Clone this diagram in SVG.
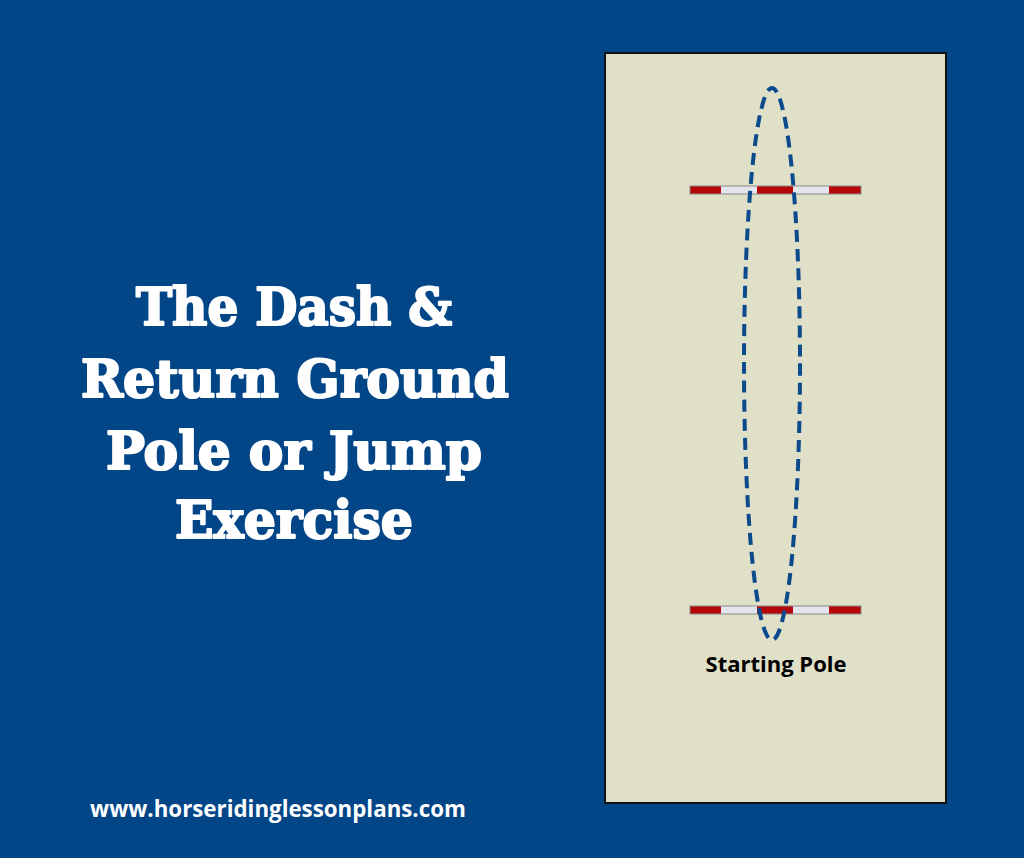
<svg xmlns="http://www.w3.org/2000/svg" width="1024" height="858" viewBox="0 0 1024 858">
<style>
.title{font-family:"DejaVu Serif",serif;font-weight:bold;font-size:52px;fill:#ffffff;stroke:#ffffff;stroke-width:2.2;stroke-linejoin:round;text-anchor:middle}
.red{fill:#b40808}
.wht{fill:#e2e6ea}
.pole{fill:none;stroke:#8a8a8a;stroke-width:1}
</style>
<defs>
<g id="pole">
<rect class="red" x="690" y="0" width="31" height="8"/>
<rect class="wht" x="721" y="0" width="36" height="8"/>
<rect class="red" x="757" y="0" width="36" height="8"/>
<rect class="wht" x="793" y="0" width="36" height="8"/>
<rect class="red" x="829" y="0" width="32" height="8"/>
<rect class="pole" x="690" y="0" width="171" height="8"/>
</g>
</defs>
<rect x="0" y="0" width="1024" height="858" fill="#034687"/>
<g id="title">
<text class="title" x="294" y="325" textLength="316" lengthAdjust="spacingAndGlyphs">The Dash &amp;</text>
<text class="title" x="295" y="397" textLength="428" lengthAdjust="spacingAndGlyphs">Return Ground</text>
<text class="title" x="294" y="469" textLength="376" lengthAdjust="spacingAndGlyphs">Pole or Jump</text>
<text class="title" x="294" y="538" textLength="238" lengthAdjust="spacingAndGlyphs">Exercise</text>
</g>
<g id="arena">
<rect x="605" y="53" width="341" height="750" fill="#e0dfc7" stroke="#111111" stroke-width="2"/>
</g>
<g id="top-pole"><use href="#pole" y="186"/></g>
<g id="start-pole"><use href="#pole" y="606"/></g>
<g id="connectors">
<ellipse cx="772" cy="364" rx="28" ry="276" fill="none" stroke="#0b4a8c" stroke-width="4" stroke-dasharray="12 7"/>
</g>
<g id="label">
<text x="776" y="672" font-family="Open Sans, sans-serif" font-weight="bold" font-size="22" fill="#000000" text-anchor="middle">Starting Pole</text>
</g>
<g id="url">
<text x="278" y="817" font-family="Open Sans, sans-serif" font-weight="bold" font-size="22.3" fill="#ffffff" text-anchor="middle">www.horseridinglessonplans.com</text>
</g>
</svg>
